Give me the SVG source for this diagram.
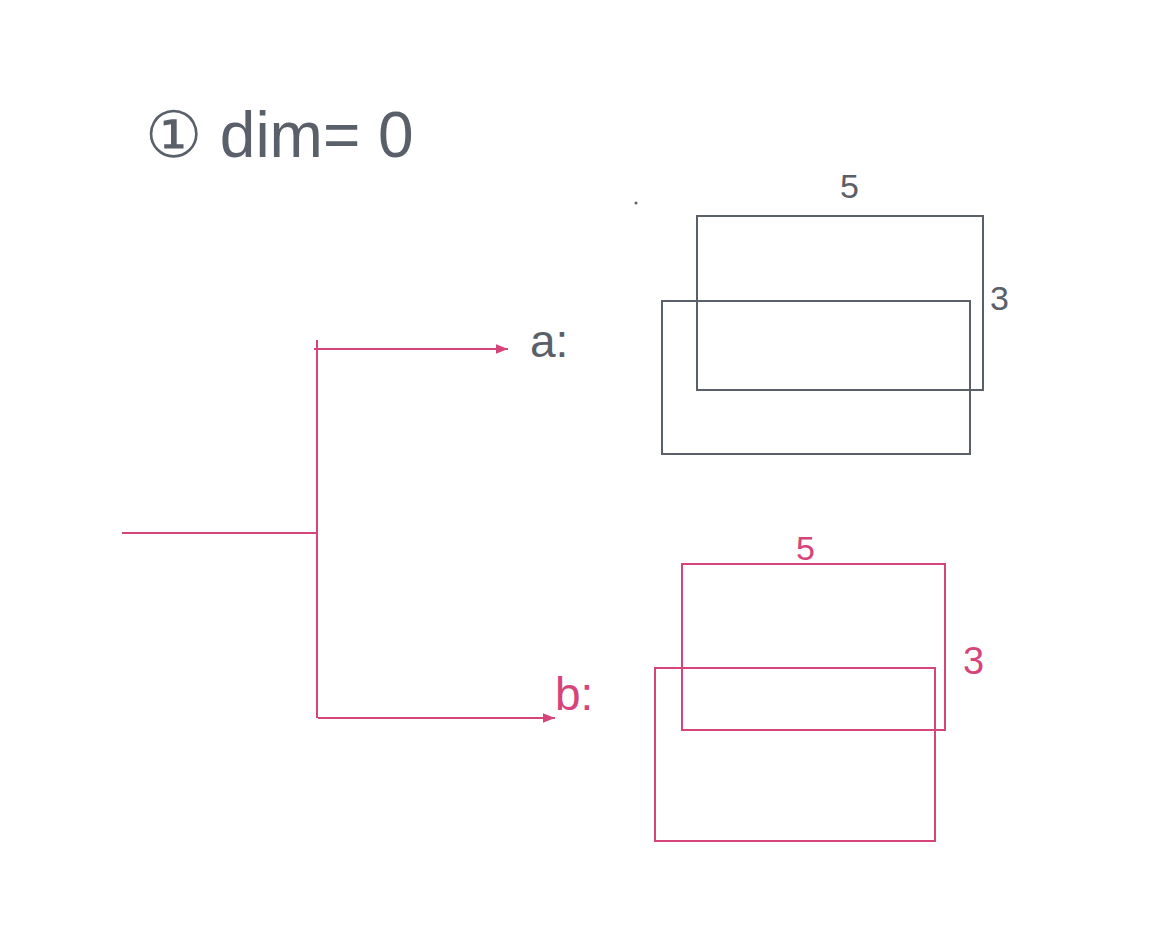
<svg xmlns="http://www.w3.org/2000/svg" width="1162" height="936" viewBox="0 0 1162 936">
<style>
.g{fill:none;stroke:#5a606a;stroke-width:2}
.p{fill:none;stroke:#d6457a;stroke-width:2}
.tg{fill:#5a606a;font-family:"Liberation Sans",sans-serif}
.tp{fill:#d6457a;font-family:"Liberation Sans",sans-serif}
</style>
<defs>
<marker id="ah" viewBox="0 0 10 10" refX="10" refY="5" markerWidth="6" markerHeight="6" orient="auto"><path d="M0,1 L10,5 L0,9 z" fill="#d6457a"/></marker>
</defs>
<rect width="1162" height="936" fill="#fff"/>
<g id="title"><text class="tg" x="145" y="157" font-size="64" font-weight="300">① dim= 0</text></g>
<g id="connectors">
<path class="p" d="M122,533 H318"/>
<path class="p" d="M317,340 V718"/>
<path class="p" d="M314,349 H508" marker-end="url(#ah)"/>
<path class="p" d="M318,718 H555" marker-end="url(#ah)"/>
</g>
<g id="a">
<text class="tg" x="530" y="357" font-size="46">a:</text>
<circle cx="636" cy="203" r="1.5" fill="#5a606a"/>
<rect class="g" x="697" y="216" width="286" height="174"/>
<rect class="g" x="662" y="301" width="308" height="153"/>
<text class="tg" x="840" y="198" font-size="34">5</text>
<text class="tg" x="990" y="310" font-size="34">3</text>
</g>
<g id="b">
<text class="tp" x="555" y="710" font-size="46">b:</text>
<rect class="p" x="682" y="564" width="263" height="166"/>
<rect class="p" x="655" y="668" width="280" height="173"/>
<text class="tp" x="796" y="560" font-size="34">5</text>
<text class="tp" x="963" y="674" font-size="38">3</text>
</g>
</svg>
